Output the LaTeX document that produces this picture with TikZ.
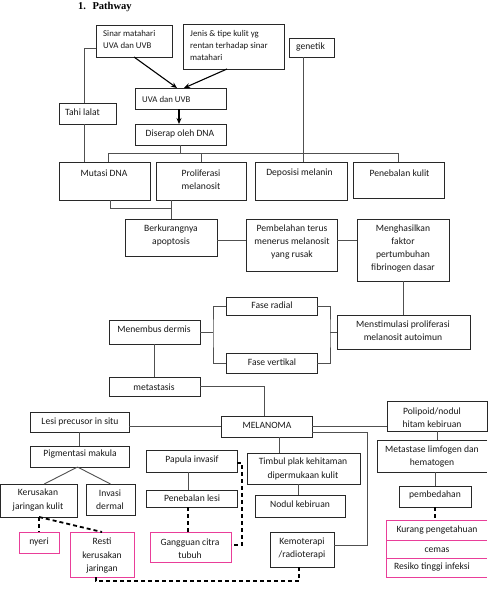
\documentclass[tikz,border=0pt]{standalone}
\usepackage{fontspec}
\setmainfont{Carlito}
\newfontfamily\titlefont{Liberation Serif}
\usetikzlibrary{arrows.meta,calc}
\definecolor{pinkc}{RGB}{233,62,153}
\definecolor{boxc}{RGB}{40,40,40}
\definecolor{linec}{RGB}{80,80,80}
\newcommand\bx[6][box]{\node[#1,minimum width={(#5-#3)*1pt},minimum height={(#6-#4)*1pt},anchor=north west] (#2) at (#3,#4) {};}
\begin{document}
\begin{tikzpicture}[x=1pt,y=-1pt,
 box/.style={draw=boxc,line width=0.9pt,inner sep=0pt,outer sep=0pt},
 pbox/.style={draw=pinkc,line width=0.9pt,inner sep=0pt,outer sep=0pt},
 obox/.style={inner sep=0pt,outer sep=0pt},
 txt/.style={inner sep=0pt,font=\fontsize{9.6}{13.3}\selectfont,align=center,text=black!90},
 stxt/.style={inner sep=0pt,font=\fontsize{8.8}{12}\selectfont,align=left,anchor=west,text=black!90},
 ln/.style={draw=linec,line width=0.9pt},
 arr/.style={draw=black,line width=1.1pt,-{Stealth[length=6pt,width=5pt]}},
 dsh/.style={draw=black,line width=1.8pt,dash pattern=on 4pt off 3pt}]
\fill[white] (0,0) rectangle (500,592);
\useasboundingbox (0,0) rectangle (500,592);
\node[anchor=west,inner sep=0pt,font=\titlefont\bfseries\fontsize{10.5}{12}\selectfont] (title) at (78,7) {1.\hspace{6.5pt}Pathway};
% boxes
\bx{sin}{96}{25}{172}{57}
\bx{jen}{183}{24}{284}{69}
\bx{gen}{289}{38}{334}{57}
\bx{uva}{135}{88}{226}{109}
\bx{tah}{59}{103}{116}{124}
\bx{dis}{135}{124}{226}{145}
\bx{mut}{59}{162}{150}{200}
\bx{pro}{156}{162}{246}{200}
\bx{dep}{255}{162}{347}{200}
\bx{peb}{353}{162}{444}{198}
\bx{ber}{125}{219}{217}{256}
\bx{pem}{246}{219}{337}{271}
\bx{mgh}{357}{219}{449}{281}
\bx{fra}{226}{297}{317}{315}
\bx{fve}{226}{353}{317}{373}
\bx{mnb}{109}{320}{200}{344}
\bx{mst}{337}{315}{470}{349}
\bx{mts}{109}{377}{200}{396}
\bx{mel}{221}{416}{312}{437}
\bx{les}{30}{412}{129}{432}
\bx{pol}{387}{401}{487}{431}
\bx{pig}{30}{446}{129}{467}
\bx{ker}{0.5}{484}{77}{517}
\bx{inv}{86}{484}{135}{515}
\bx[pbox]{nye}{19}{532}{59}{553}
\bx[pbox]{res}{70}{532}{134}{577}
\bx{pap}{146}{450}{237}{472}
\bx{pnl}{146}{490}{237}{507}
\bx[pbox]{gan}{150}{532}{231}{562}
\bx{tim}{247}{453}{360}{484}
\bx{nod}{255}{495}{345}{517}
\bx{kem}{270}{532}{334}{567}
\bx[obox]{mtl}{377}{440}{487}{472}
\bx{pbd}{399}{486}{471}{507}
\bx[obox]{kur}{386}{520}{487}{577}
\draw[boxc,line width=0.9pt] (mtl.north east) -- (mtl.north west) -- (mtl.south west) -- (mtl.south east);
\draw[pinkc,line width=0.9pt] (kur.north east) -- (kur.north west) -- (kur.south west) -- (kur.south east);
\draw[pinkc,line width=0.9pt] ([yshift=-20pt]kur.north west) -- ([yshift=-20pt]kur.north east);
\draw[pinkc,line width=0.9pt] ([yshift=-38pt]kur.north west) -- ([yshift=-38pt]kur.north east);
% texts
\node[stxt] (tsin) at (103,39) {Sinar matahari\\UVA dan UVB};
\node[stxt] (tjen) at (190,45) {Jenis \& tipe kulit yg\\rentan terhadap sinar\\matahari};
\node[txt] (tgen) at (310.5,47) {genetik};
\node[stxt] (tuva) at (142,99) {UVA dan UVB};
\node[txt,anchor=west] (ttah) at (65,112) {Tahi lalat};
\node[txt] (tdis) at (180,134) {Diserap oleh DNA};
\node[txt] (tmut) at (104,173) {Mutasi DNA};
\node[txt] (tpro) at (201,179.5) {Proliferasi\\melanosit};
\node[txt] (tdep) at (299.5,173) {Deposisi melanin};
\node[txt] (tpeb) at (399.5,173) {Penebalan kulit};
\node[txt] (tber) at (171,235.5) {Berkurangnya\\apoptosis};
\node[txt] (tpem) at (292,242) {Pembelahan terus\\menerus melanosit\\yang rusak};
\node[txt] (tmgh) at (403,248.5) {Menghasilkan\\faktor\\pertumbuhan\\fibrinogen dasar};
\node[txt] (tfra) at (272,305) {Fase radial};
\node[txt] (tmnb) at (154,329) {Menembus dermis};
\node[txt] (tmst) at (403,331) {Menstimulasi proliferasi\\melanosit autoimun};
\node[txt] (tfve) at (272,362) {Fase vertikal};
\node[txt] (tmts) at (154,387) {metastasis};
\node[txt] (tles) at (80,422) {Lesi precusor in situ};
\node[txt] (tmel) at (267,425) {MELANOMA};
\node[txt] (tpol) at (432,417.5) {Polipoid/nodul\\hitam kebiruan};
\node[txt] (tpig) at (80,454) {Pigmentasi makula};
\node[txt] (tpap) at (192,460) {Papula invasif};
\node[txt] (ttim) at (303,469) {Timbul plak kehitaman\\dipermukaan kulit};
\node[txt] (tmtl) at (432,456.5) {Metastase limfogen dan\\hematogen};
\node[txt] (tker) at (38,500) {Kerusakan\\jaringan kulit};
\node[txt] (tinv) at (110,500) {Invasi\\dermal};
\node[txt] (tpnl) at (192,498) {Penebalan lesi};
\node[txt] (tnod) at (300,504) {Nodul kebiruan};
\node[txt] (tpbd) at (435,495) {pembedahan};
\node[txt] (tnye) at (39,542) {nyeri};
\node[txt] (tres) at (102,555.5) {Resti\\kerusakan\\jaringan};
\node[txt] (tgan) at (190,548.5) {Gangguan citra\\tubuh};
\node[txt] (tkem) at (302,548.5) {Kemoterapi\\/radioterapi};
\node[txt] (tkur) at (437,530) {Kurang pengetahuan};
\node[txt] (tcem) at (437,550) {cemas};
\node[txt] (tris) at (432,567) {Resiko tinggi infeksi};
% connectors
\draw[ln] ([yshift=-7pt]sin.west) -| ([xshift=-3.5pt]tah.north);
\coordinate (c1) at ([xshift=-3.5pt]tah.south);
\draw[ln] (c1) -- (c1 |- mut.north);
\draw[arr] (sin.south) -- ([xshift=-3.5pt]uva.north);
\draw[arr] ([xshift=-6.5pt]jen.south) -- ([xshift=3.5pt]uva.north);
\draw[arr] ([xshift=-1.5pt]uva.south) -- ([xshift=-1.5pt]dis.north);
\coordinate (bus) at (0,153);
\draw[ln] ([xshift=3.5pt]mut.north) |- (bus -| peb.north) -- (peb.north);
\draw[ln] (dis.south) -- (dis.south |- bus);
\draw[ln] (pro.north) -- (pro.north |- bus);
\coordinate (c2) at ([xshift=-8.5pt]gen.south);
\draw[ln] (c2) -- (c2 |- dep.north);
\coordinate (j1) at ([yshift=11pt]ber.north);
\coordinate (c3) at ([xshift=5.5pt]mut.south);
\draw[ln] (c3) |- (j1);
\draw[ln] (j1 |- pro.south) -- (ber.north);
\coordinate (c4) at ([yshift=-2.5pt]ber.east);
\draw[ln] (c4) -- (c4 -| pem.west);
\coordinate (c5) at ([yshift=5pt]pem.east);
\draw[ln] (c5) -- (c5 -| mgh.west);
\draw[ln] (mgh.south) -- (mgh.south |- mst.north);
\coordinate (b1) at ([xshift=13pt]mnb.east);
\draw[ln] (mnb.east) -- (b1);
\draw[ln] (fra.west) -| (b1) |- (fve.west);
\coordinate (b2) at ([xshift=-7pt]mst.west);
\draw[ln] (mst.west) -- (b2);
\draw[ln] (fra.east) -| (b2) |- (fve.east);
\draw[ln] (mnb.south) -- (mts.north);
\draw[ln] (mts.east) -| ([xshift=-2pt]mel.north);
\draw[ln] (mel.west) -- (mel.west -| les.east);
\draw[ln] (mel.east) -- (mel.east -| pol.west);
\coordinate (c6) at ([yshift=-5.5pt]mel.east);
\coordinate (c7) at ([yshift=4.5pt]kem.east);
\draw[ln] (c6) -- ++(55,0) |- (c7);
\coordinate (c8) at ([xshift=13pt]mel.south);
\draw[ln] (c8) -- (c8 |- tim.north);
\coordinate (c9) at ([xshift=-5.5pt]tim.south);
\draw[ln] (c9) -- (c9 |- nod.north);
\draw[ln] (les.south) -- (pig.north);
\draw[ln] ([xshift=-2pt]pig.south) -- ([xshift=5.5pt]ker.north);
\draw[ln] ([xshift=-2pt]pig.south) -- (inv.north);
\coordinate (c10) at ([xshift=-3pt]pap.south);
\draw[ln] (c10) -- (c10 |- pnl.north);
\coordinate (c11) at ([xshift=-3.5pt]pnl.south);
\draw[dsh] (c11) -- (c11 |- gan.north);
\draw[dsh] ([yshift=-2pt]pap.east) -- ++(5,0) |- ([yshift=2pt]gan.east);
\coordinate (c12) at (ker.south -| nye.north);
\draw[dsh] (c12) -- (nye.north);
\draw[dsh] (c12) -- (res.north);
\draw[dsh] ([xshift=-6pt]res.south) -- ++(0,4) -| ([xshift=-3pt]kem.south);
\draw[ln] (pol.south) -- (pol.south |- mtl.north);
\draw[ln] (pbd.north |- mtl.south) -- (pbd.north);
\draw[dsh] (pbd.south) -- (pbd.south |- kur.north);
\end{tikzpicture}
\end{document}
